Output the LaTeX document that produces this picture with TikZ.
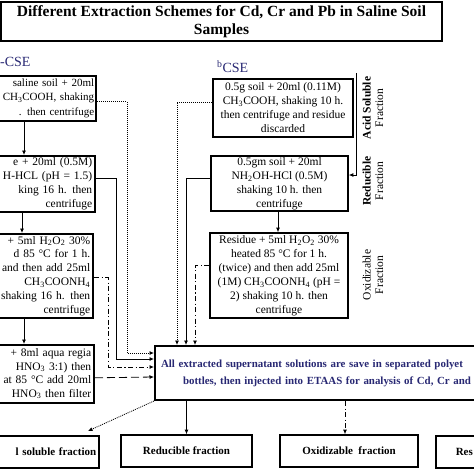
\documentclass[tikz,border=0pt]{standalone}
\usepackage{fontspec}
\setmainfont{Liberation Serif}
\usetikzlibrary{arrows.meta}
\definecolor{navy}{RGB}{40,40,115}
\begin{document}
\begin{tikzpicture}[x=1pt,y=-1pt,
  box/.style={draw, line width=1.6pt, inner sep=0pt, font=\fontsize{11.5}{14}\selectfont},
  boxr/.style={box, inner xsep=3pt, align=right},
  frac/.style={draw, line width=1.6pt, inner sep=0pt, minimum height=32pt, font=\bfseries\fontsize{11}{13}\selectfont},
  con/.style={line width=0.8pt, -{Latex[length=4.5pt,width=4pt]}},
  dotline/.style={dash pattern=on 1pt off 1pt},
  dashdotline/.style={dash pattern=on 5pt off 2.5pt on 1.2pt off 2.5pt},
  dashline/.style={dash pattern=on 8pt off 4pt},
  sidelab/.style={rotate=90, align=center, font=\fontsize{11.5}{12.5}\selectfont}
]
\useasboundingbox (0,0) rectangle (474,474);
\clip (0,0) rectangle (474,474);

% title
\node[draw, line width=2.4pt, minimum width=441pt, minimum height=39pt, align=center,
      font=\bfseries\fontsize{15.5}{18}\selectfont] (title) at (221.5,21.5)
  {Different Extraction Schemes for Cd, Cr and Pb in Saline Soil\\Samples};

% scheme labels
\node[anchor=west, text=navy, font=\fontsize{14}{16}\selectfont, inner sep=0pt] (acse) at (0,62) {-CSE};
\node[anchor=west, text=navy, font=\fontsize{14}{16}\selectfont, inner sep=0pt] (bcse) at (217,67) {\textsuperscript{b}CSE};

% left column (a-CSE)
\node[boxr, anchor=north east, minimum height=45pt, text width=132pt, inner xsep=2pt, font=\fontsize{11}{14.5}\selectfont] (l1) at (97,75)
  {saline soil + 20ml\hspace*{4pt}\\ CH\textsubscript{3}COOH, shaking\\ . then centrifuge\hspace*{19pt}};
\node[boxr, anchor=north east, minimum height=56pt, text width=130pt] (l2) at (96,155)
  {e + 20ml (0.5M)\hspace*{13pt}\\ H-HCL (pH = 1.5)\hspace*{10pt}\\ king 16 h. then\hspace*{25pt}\\ centrifuge\hspace*{46pt}};
\node[boxr, anchor=north east, minimum height=84pt, text width=128pt, font=\fontsize{11.5}{13.8}\selectfont] (l3) at (94,233)
  {+ 5ml H\textsubscript{2}O\textsubscript{2} 30\%\hspace*{4pt}\\ d 85 °C for 1 h.\hspace*{14pt}\\ and then add 25ml\hspace*{4pt}\\ CH\textsubscript{3}COONH\textsubscript{4}\hspace*{19pt}\\ shaking 16 h. then\hspace*{4pt}\\ centrifuge\hspace*{44pt}};
\node[boxr, anchor=north east, minimum height=58pt, text width=129pt, font=\fontsize{11.5}{13.5}\selectfont] (l4) at (95,344)
  {+ 8ml aqua regia\hspace*{8pt}\\ HNO\textsubscript{3} 3:1) then\hspace*{17pt}\\ at 85 °C add 20ml\hspace*{9pt}\\ HNO\textsubscript{3} then filter\hspace*{15pt}};

% right column (b-CSE)
\node[box, minimum width=140pt, minimum height=58pt, align=center] (r1) at (283,108)
  {0.5g soil + 20ml (0.11M)\\ CH\textsubscript{3}COOH, shaking 10 h.\\ then centrifuge and residue\\ discarded};
\node[box, minimum width=137pt, minimum height=55pt, align=center] (r2) at (279.5,183.5)
  {0.5gm soil + 20ml\\ NH\textsubscript{2}OH-HCl (0.5M)\\ shaking 10 h. then\\ centrifuge};
\node[box, minimum width=138pt, minimum height=85pt, align=center] (r3) at (279,275.5)
  {Residue + 5ml H\textsubscript{2}O\textsubscript{2} 30\%\\ heated 85 °C for 1 h.\\ (twice) and then add 25ml\\ (1M) CH\textsubscript{3}COONH\textsubscript{4} (pH =\\ 2) shaking 10 h. then\\ centrifuge};

% side labels
\node[sidelab] (s1) at (373,108) {\textbf{Acid Soluble}\\Fraction};
\node[sidelab] (s2) at (373,181) {\textbf{Reducible}\\Fraction};
\node[sidelab] (s3) at (373,275) {Oxidizable\\Fraction};

% main collecting box
\node[draw, line width=2pt, inner xsep=6pt, inner ysep=0pt, anchor=north west, minimum height=54pt,
      text width=420pt, align=left, text=navy, font=\bfseries\fontsize{10.9}{17}\selectfont] (main) at (154,345)
  {All extracted supernatant solutions are save in separated polyet\\ \hspace*{22pt}bottles, then injected into ETAAS for analysis of Cd, Cr and};

% fraction boxes
\node[frac, anchor=north east, text width=134pt, inner xsep=3pt, align=right] (f1) at (100,435) {l soluble fraction\hspace*{15pt}};
\node[frac, minimum width=131pt] (f2) at (186.5,451) {Reducible fraction};
\node[frac, minimum width=138pt] (f3) at (349,451) {Oxidizable\ \ fraction};
\node[frac, anchor=north west, text width=100pt, inner xsep=3pt, align=left] (f4) at (435,435) {\hspace*{17pt}Res};

% step arrows, left column
\draw[con] (l1.south -| 24,0) -- (l2.north -| 24,0);
\draw[con] (l2.south -| 22,0) -- (l3.north -| 22,0);
\draw[con] (l3.south -| 24,0) -- (l4.north -| 24,0);
% step arrows, right column
\coordinate (rtop) at (356,73);
\draw[con] (rtop) |- ([yshift=8.5pt]r2.east);
\draw[con] (r2.south -| 278,0) -- (r3.north -| 278,0);

% left inputs to main box
\draw[con, dotline] ([yshift=-3.5pt]l1.east) -| ([xshift=-27pt,yshift=-8pt]main.north west) -- ([yshift=-8pt]main.north west);
\draw[con] ([yshift=5pt]l2.east) -| ([xshift=-38pt,yshift=-14pt]main.north west) -- ([yshift=-14pt]main.north west);
\draw[con, dashdotline] ([yshift=-2pt]l3.east) -| ([xshift=-46pt,yshift=-22pt]main.north west) -- ([yshift=-22pt]main.north west);
\draw[con, dashline] ([yshift=-4pt]l4.east) -- ([yshift=-32pt]main.north west);

% top inputs to main box
\draw[con, dotline] ([yshift=6pt]r1.west) -| ([xshift=23pt]main.north west);
\draw[con] ([yshift=5pt]r2.west) -| ([xshift=32pt]main.north west);
\draw[con, dashdotline] ([yshift=10pt]r3.west) -| ([xshift=41pt]main.north west);

% outputs
\draw[con, dotline] (main.south west) -- ([xshift=-12pt,yshift=4pt]f1.north east);
\draw[con] (f2.north |- main.south) -- (f2.north);
\coordinate (f3in) at ([xshift=-4pt]f3.north);
\draw[con, dashdotline] (f3in |- main.south) -- (f3in);
\end{tikzpicture}
\end{document}
